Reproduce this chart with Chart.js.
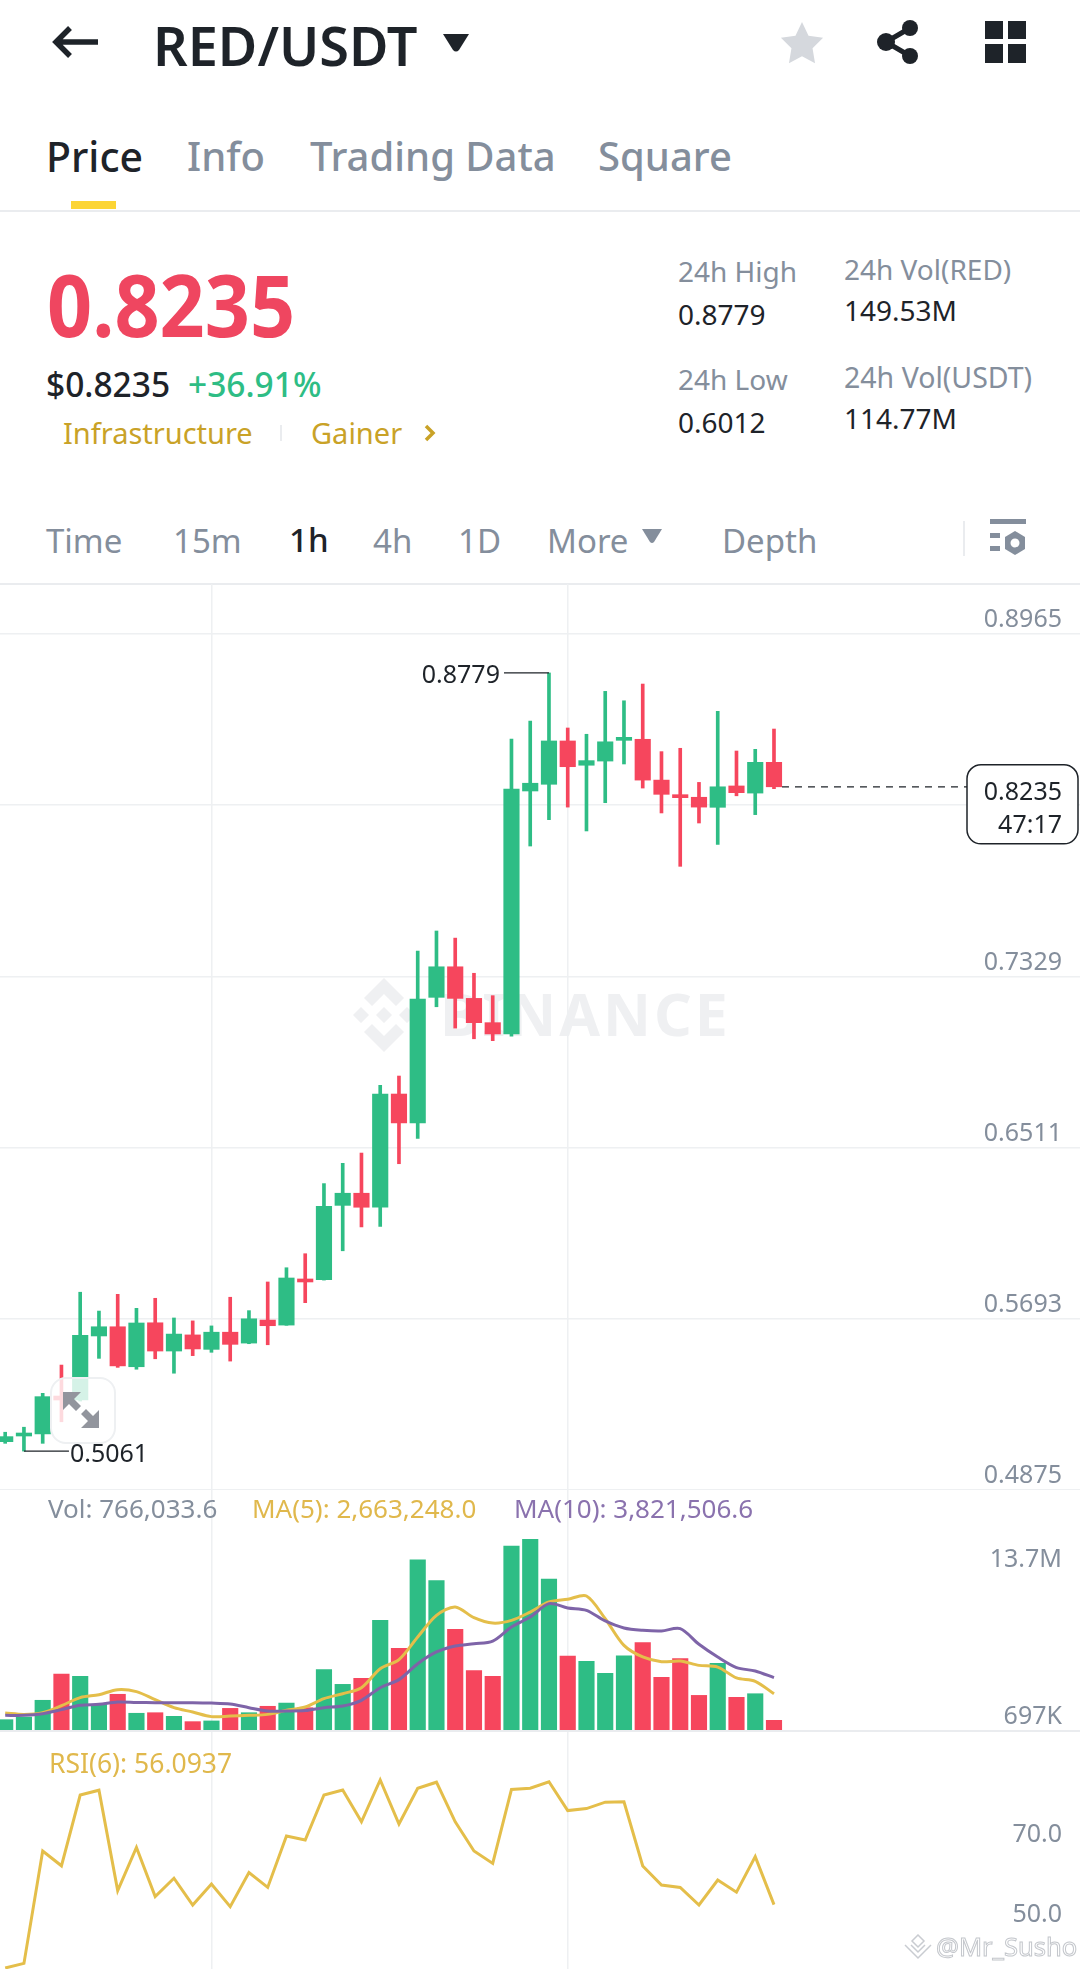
<!DOCTYPE html>
<html>
<head>
<meta charset="utf-8">
<title>RED/USDT</title>
<script src="https://cdn.jsdelivr.net/npm/chart.js@4/dist/chart.umd.min.js"></script>
<style>
    html, body { margin: 0; padding: 0; background: #fff; }
    #page { position: relative; width: 1080px; height: 1969px; overflow: hidden; background: #fff;
            font-family: "Noto Sans", sans-serif; color: #1E2329; }
    .t { position: absolute; white-space: nowrap; line-height: 1; transform: translateY(-50%); }
    .gray { color: #848E9C; }
    .rule { position: absolute; background: #EAECEF; }
    svg { position: absolute; display: block; }
    canvas { position: absolute; left: 0; display: block; }
</style>
</head>
<body>
<div id="page">
    <!-- top bar -->
    <svg style="left:52px;top:24px" width="48" height="36" viewBox="0 0 48 36"><path d="M18 4 L4 18 L18 32 M4 18 H46" fill="none" stroke="#1E2329" stroke-width="5.5"/></svg>
    <div class="t" style="left:153px;top:45px;font-size:54px;font-weight:600">RED/USDT</div>
    <svg style="left:442px;top:33px" width="28" height="20" viewBox="0 0 28 20"><path d="M1 1 H27 L17 17 Q14 20 11 17 Z" fill="#1E2329"/></svg>
    <svg style="left:779px;top:20px" width="46" height="46" viewBox="0 0 24 24"><path d="M12 1 L15.4 8.2 L23 9.3 L17.5 14.8 L18.8 22.6 L12 18.9 L5.2 22.6 L6.5 14.8 L1 9.3 L8.6 8.2 Z" fill="#D5D8DD"/></svg>
    <svg style="left:876px;top:19px" width="46" height="46" viewBox="0 0 46 46"><path d="M34 9 L10 23 L34 37" fill="none" stroke="#1E2329" stroke-width="5"/><circle cx="34" cy="9" r="8" fill="#1E2329"/><circle cx="10" cy="23" r="9" fill="#1E2329"/><circle cx="34" cy="37" r="8" fill="#1E2329"/></svg>
    <svg style="left:985px;top:21px" width="41" height="42" viewBox="0 0 41 42"><path d="M0 0 H18 V18 H0 Z M23 0 H41 V18 H23 Z M0 23 H18 V42 H0 Z M23 23 H41 V42 H23 Z" fill="#1E2329"/></svg>

    <!-- tabs -->
    <div class="t" style="left:46px;top:156px;font-size:41px;font-weight:500">Price</div>
    <div class="t gray" style="left:187px;top:156px;font-size:40px;font-weight:500">Info</div>
    <div class="t gray" style="left:310px;top:156px;font-size:40px;font-weight:500">Trading Data</div>
    <div class="t gray" style="left:598px;top:156px;font-size:40px;font-weight:500">Square</div>
    <div class="rule" style="left:71px;top:201px;width:45px;height:8px;background:#FCD535"></div>
    <div class="rule" style="left:0;top:210px;width:1080px;height:2px"></div>

    <!-- price block -->
    <div class="t" style="left:47px;top:304px;font-size:79px;font-weight:700;color:#EF4660;transform:translateY(-50%) scaleY(1.08)">0.8235</div>
    <div class="t" style="left:46px;top:385px;font-size:33.5px;font-weight:500">$0.8235</div>
    <div class="t" style="left:188px;top:385px;font-size:33.5px;font-weight:500;color:#2EBD85">+36.91%</div>
    <div class="t" style="left:63px;top:432px;font-size:29px;color:#C9A227">Infrastructure</div>
    <div class="rule" style="left:280px;top:425px;width:2px;height:16px"></div>
    <div class="t" style="left:311px;top:432px;font-size:29px;color:#C9A227">Gainer</div>
    <svg style="left:423px;top:423px" width="13" height="20" viewBox="0 0 13 20"><path d="M3 3 L10 10 L3 17" fill="none" stroke="#C9A227" stroke-width="3.5"/></svg>

    <!-- 24h stats -->
    <div class="t gray" style="left:678px;top:271px;font-size:28px">24h High</div>
    <div class="t" style="left:678px;top:314px;font-size:28px">0.8779</div>
    <div class="t gray" style="left:678px;top:379px;font-size:28px">24h Low</div>
    <div class="t" style="left:678px;top:422px;font-size:28px">0.6012</div>
    <div class="t gray" style="left:844px;top:269px;font-size:28px">24h Vol(RED)</div>
    <div class="t" style="left:844px;top:310px;font-size:28px">149.53M</div>
    <div class="t gray" style="left:844px;top:377px;font-size:28.5px">24h Vol(USDT)</div>
    <div class="t" style="left:844px;top:418px;font-size:28px">114.77M</div>

    <!-- interval row -->
    <div class="t gray" style="left:46px;top:540px;font-size:33px">Time</div>
    <div class="t gray" style="left:173px;top:540px;font-size:33px">15m</div>
    <div class="t" style="left:289px;top:539px;font-size:33px;font-weight:500">1h</div>
    <div class="t gray" style="left:373px;top:540px;font-size:33px">4h</div>
    <div class="t gray" style="left:458px;top:540px;font-size:33px">1D</div>
    <div class="t gray" style="left:547px;top:540px;font-size:33px">More</div>
    <svg style="left:642px;top:529px" width="20" height="15" viewBox="0 0 20 15"><path d="M0 0 H20 L12 13 Q10 15 8 13 Z" fill="#848E9C"/></svg>
    <div class="t gray" style="left:722px;top:540px;font-size:33px">Depth</div>
    <div class="rule" style="left:963px;top:521px;width:2px;height:35px"></div>
    <svg style="left:990px;top:519px" width="36" height="37" viewBox="0 0 36 37"><path d="M0 0 H36 V5 H0 Z M0 14 H10 V19 H0 Z M0 27 H10 V32 H0 Z" fill="#848E9C"/><path d="M25 12 L35 18 V30 L25 36 L15 30 V18 Z" fill="#848E9C"/><circle cx="25" cy="24" r="4.5" fill="#fff"/></svg>
    <div class="rule" style="left:0;top:583px;width:1080px;height:2px"></div>

    <!-- watermark sits under the transparent price canvas -->
    <svg style="left:353px;top:978px" width="62" height="74" viewBox="0 0 62 74" fill="#EFF0F2">
        <path d="M31 0 L51 20 L43 28 L31 16 L19 28 L11 20 Z M31 74 L51 54 L43 46 L31 58 L19 46 L11 54 Z M0 37 L8 29 L16 37 L8 45 Z M46 37 L54 29 L62 37 L54 45 Z M31 29 L39 37 L31 45 L23 37 Z"/>
    </svg>
    <div class="t" style="left:440px;top:1013px;font-size:59px;font-weight:700;letter-spacing:3px;color:#EFF0F2">BINANCE</div>

    <canvas id="priceChart" width="1080" height="906" style="top:584px"></canvas>
    <canvas id="volChart" width="1080" height="241" style="top:1490px"></canvas>
    <canvas id="rsiChart" width="1080" height="238" style="top:1731px"></canvas>

    <!-- expand button floats over the candles -->
    <div style="position:absolute;left:50px;top:1377px;width:62px;height:63px;border:2px solid #EEF0F2;border-radius:16px;background:rgba(255,255,255,.8)"></div>
    <svg style="left:61px;top:1390px" width="40" height="40" viewBox="0 0 40 40" fill="#92959D">
        <path d="M2 2 H20 L13 9 L20 16 L15 21 L8 14 L2 20 Z M38 38 H20 L27 31 L20 24 L25 19 L32 26 L38 20 Z"/>
    </svg>

    <!-- baseline under the volume bars -->
    <div class="rule" style="left:0;top:1730px;width:1080px;height:2px"></div>

    <!-- indicator legends -->
    <div class="t gray" style="left:48px;top:1508px;font-size:26px">Vol: 766,033.6</div>
    <div class="t" style="left:252px;top:1508px;font-size:26px;color:#E0B84C">MA(5): 2,663,248.0</div>
    <div class="t" style="left:514px;top:1508px;font-size:26px;color:#8A72AE">MA(10): 3,821,506.6</div>
    <div class="t" style="left:49px;top:1763px;font-size:26.5px;color:#E0B84C">RSI(6): 56.0937</div>

    <!-- source credit -->
    <svg style="left:904px;top:1934px" width="28" height="26" viewBox="0 0 28 26" fill="none" stroke="#C9CCD1" stroke-width="1.5"><path d="M14 1 L20 7 L14 13 L8 7 Z M1 11 L14 24 L27 11 M7 11 L14 18 L21 11"/></svg>
    <div class="t" style="left:936px;top:1947px;font-size:25.5px;color:#fff;-webkit-text-stroke:1px #C4C7CC">@Mr_Susho</div>
</div>

<script>
// ===================================================================
// Values
// ===================================================================
const opens = [0.5106, 0.5133, 0.5143, 0.5324, 0.5305, 0.5611, 0.5655, 0.5464, 0.5674, 0.5539,
    0.5616, 0.5547, 0.5629, 0.5577, 0.5687, 0.5663, 0.5883, 0.5880, 0.6235, 0.6293,
    0.6227, 0.6767, 0.6629, 0.7229, 0.7375, 0.7224, 0.7108, 0.7054, 0.8215, 0.8247,
    0.8454, 0.8338, 0.8358, 0.8457, 0.8462, 0.8267, 0.8197, 0.8185, 0.8137, 0.8239,
    0.8205, 0.8352];
const highs = [0.5151, 0.5175, 0.5337, 0.5472, 0.5820, 0.5730, 0.5810, 0.5743, 0.5791, 0.5697,
    0.5683, 0.5659, 0.5796, 0.5732, 0.5869, 0.5937, 0.6004, 0.6339, 0.6436, 0.6485,
    0.6809, 0.6853, 0.7450, 0.7546, 0.7512, 0.7344, 0.7237, 0.8463, 0.8549, 0.8779,
    0.8516, 0.8486, 0.8691, 0.8646, 0.8726, 0.8403, 0.8419, 0.8256, 0.8596, 0.8406,
    0.8414, 0.8511];
const lows = [0.5098, 0.5061, 0.5098, 0.5201, 0.5300, 0.5504, 0.5461, 0.5452, 0.5502, 0.5433,
    0.5517, 0.5533, 0.5491, 0.5574, 0.5569, 0.5662, 0.5770, 0.5878, 0.6018, 0.6132,
    0.6135, 0.6434, 0.6555, 0.7184, 0.7082, 0.7031, 0.7022, 0.7044, 0.7952, 0.8078,
    0.8138, 0.8024, 0.8159, 0.8344, 0.8229, 0.8110, 0.7855, 0.8062, 0.7960, 0.8192,
    0.8102, 0.8226];
const closes = [0.5130, 0.5144, 0.5321, 0.5305, 0.5614, 0.5655, 0.5468, 0.5673, 0.5539, 0.5620,
    0.5549, 0.5629, 0.5571, 0.5693, 0.5660, 0.5888, 0.5869, 0.6231, 0.6293, 0.6226,
    0.6767, 0.6629, 0.7221, 0.7375, 0.7224, 0.7108, 0.7054, 0.8224, 0.8252, 0.8454,
    0.8331, 0.8360, 0.8450, 0.8471, 0.8267, 0.8199, 0.8183, 0.8138, 0.8235, 0.8207,
    0.8352, 0.8235];

const volumes = [810000, 1000000, 2200000, 4080000, 3910000, 1910000, 2630000, 1270000, 1310000, 1050000,
    670000, 720000, 1620000, 1310000, 1770000, 2000000, 1670000, 4390000, 3340000, 3770000,
    7920000, 5920000, 12250000, 10770000, 7280000, 4320000, 3910000, 13250000, 13730000, 10880000,
    5370000, 4990000, 4130000, 5390000, 6330000, 3840000, 5180000, 2550000, 4850000, 2410000,
    2670000, 766034];
const volMa5 = [1290000, 1190000, 1310000, 1810000, 2390000, 2600000, 2960000, 2820000, 2240000, 1670000,
    1360000, 1030000, 1070000, 1120000, 1190000, 1480000, 1720000, 2320000, 2670000, 3100000,
    4460000, 5110000, 6730000, 8280000, 8880000, 8120000, 7730000, 7920000, 8520000, 9240000,
    9430000, 9670000, 8040000, 6130000, 5300000, 4960000, 5010000, 4700000, 4580000, 3800000,
    3560000, 2663248];
const volMa10 = [1120000, 1120000, 1240000, 1530000, 1840000, 1910000, 2080000, 2050000, 2030000, 2030000,
    2030000, 2000000, 1930000, 1670000, 1430000, 1430000, 1460000, 1670000, 1790000, 2200000,
    3100000, 3680000, 4820000, 5660000, 6090000, 6250000, 6440000, 7450000, 8160000, 9120000,
    8810000, 8640000, 7880000, 7380000, 7210000, 7160000, 7330000, 6210000, 5300000, 4540000,
    4300000, 3821507];
const rsi6 = [40.25, 41.4, 69.5, 65.8, 83.5, 84.7, 59.6, 70.4, 58.1, 62.7,
    56.0, 61.25, 55.6, 64.1, 60.4, 73.25, 72.25, 83.5, 84.75, 76.8,
    87.25, 76.25, 85.2, 86.7, 76.8, 69.5, 66.4, 84.9, 85.2, 86.8,
    79.6, 80.1, 81.7, 81.8, 65.75, 61.0, 60.4, 56.0, 62.25, 59.2,
    68.1, 56.09];

const priceTicks = [0.8965, 0.8147, 0.7329, 0.6511, 0.5693, 0.4875];
const volTicks = [13700000, 697000];
const volTickLabels = ['13.7M', '697K'];
const rsiTicks = [70, 50];
const timeGridAt = [11, 30];

const lastPrice = '0.8235';
const countdown = '47:17';
const highAt = 29;
const lowAt = 1;

// ===================================================================
// Shared styling
// ===================================================================
const GREEN = '#2EBD85';
const RED = '#F6465D';
const GRID = '#EEF0F2';
const AXIS_TEXT = '#848E9C';
const INK = '#1E2329';
const FONT = '"Noto Sans", sans-serif';
const TICK_FONT = { family: FONT, size: 25 };

const candleColors = closes.map((c, i) => (c >= opens[i] ? GREEN : RED));
const toPoints = (arr) => arr.map((v, i) => ({ x: i, y: v }));

// mirrored tick labels still reserve padding, which would shrink the plot area
function noPadding(axis) {
    axis.paddingTop = 0;
    axis.paddingBottom = 0;
    axis.paddingLeft = 0;
    axis.paddingRight = 0;
}

// every pane shares the same x mapping, the candles run to x=774 and the rest stays empty
function xScale() {
    return {
        type: 'linear',
        offset: false,
        min: -0.277,
        max: 57.32,
        afterBuildTicks: (axis) => { axis.ticks = timeGridAt.map((v) => ({ value: v })); },
        afterFit: (axis) => { noPadding(axis); axis.height = 0; },
        grid: { color: GRID, lineWidth: 1.5, drawTicks: false, offset: false },
        border: { display: false },
        ticks: { display: false }
    };
}

function yScale(min, max, tickValues, ticksOpts) {
    return {
        position: 'right',
        min,
        max,
        afterBuildTicks: (axis) => { axis.ticks = tickValues.map((v) => ({ value: v })); },
        afterFit: (axis) => { noPadding(axis); axis.width = 0; },
        grid: { display: false, drawTicks: false },
        border: { display: false },
        ticks: Object.assign({
            mirror: true,
            padding: -18,   // axis has zero width at the canvas edge, so pull the labels back in
            autoSkip: false,
            color: AXIS_TEXT,
            font: TICK_FONT
        }, ticksOpts)
    };
}

const baseOptions = {
    responsive: false,
    animation: false,
    layout: { padding: 0 },
    plugins: { legend: { display: false }, tooltip: { enabled: false } }
};

// ===================================================================
// Price pane
// ===================================================================
// high / low callouts and the live price line with its box
const priceMarks = {
    id: 'priceMarks',
    afterDraw(chart) {
        const { ctx, scales: { x, y } } = chart;
        ctx.save();
        ctx.font = `25px ${FONT}`;
        ctx.textBaseline = 'middle';
        ctx.fillStyle = INK;
        ctx.strokeStyle = INK;
        ctx.lineWidth = 1.2;

        const hiY = y.getPixelForValue(highs[highAt]);
        const hiX = x.getPixelForValue(highAt);
        ctx.beginPath();
        ctx.moveTo(hiX, hiY);
        ctx.lineTo(hiX - 45, hiY);
        ctx.stroke();
        ctx.textAlign = 'right';
        ctx.fillText(highs[highAt].toFixed(4), hiX - 49, hiY + 3);

        const loY = y.getPixelForValue(lows[lowAt]);
        const loX = x.getPixelForValue(lowAt);
        ctx.beginPath();
        ctx.moveTo(loX, loY);
        ctx.lineTo(loX + 45, loY);
        ctx.stroke();
        ctx.textAlign = 'left';
        ctx.fillText(lows[lowAt].toFixed(4), loX + 46, loY + 4);

        // dashed line from the last candle to the box
        const lastY = y.getPixelForValue(closes[closes.length - 1]);
        const boxLeft = 967;
        ctx.setLineDash([7, 6]);
        ctx.beginPath();
        ctx.moveTo(x.getPixelForValue(closes.length - 1) + 8, lastY);
        ctx.lineTo(boxLeft, lastY);
        ctx.stroke();
        ctx.setLineDash([]);

        ctx.lineWidth = 1.5;
        ctx.fillStyle = '#fff';
        ctx.beginPath();
        ctx.roundRect(boxLeft, lastY - 22, 111, 79, 14);
        ctx.fill();
        ctx.stroke();

        ctx.fillStyle = INK;
        ctx.textAlign = 'right';
        ctx.fillText(lastPrice, 1062, lastY + 6);
        ctx.fillText(countdown, 1062, lastY + 39);
        ctx.restore();
    }
};

new Chart(document.getElementById('priceChart'), {
    type: 'bar',
    data: {
        datasets: [
            {
                label: 'Wick',
                data: highs.map((h, i) => ({ x: i, y: [lows[i], h] })),
                backgroundColor: candleColors,
                barThickness: 3,
                grouped: false,
                order: 2
            },
            {
                label: 'Body',
                data: closes.map((c, i) => ({ x: i, y: [opens[i], c] })),
                backgroundColor: candleColors,
                barThickness: 15.5,
                minBarLength: 3,
                grouped: false,
                order: 1
            }
        ]
    },
    options: Object.assign({}, baseOptions, {
        scales: {
            x: xScale(),
            y: Object.assign(yScale(0.4875, 0.9204, priceTicks, {
                labelOffset: -14,
                callback: (v) => v.toFixed(4)
            }), { grid: { color: GRID, lineWidth: 1.5, drawTicks: false } })
        }
    }),
    plugins: [priceMarks]
});

// ===================================================================
// Volume pane
// ===================================================================
// 13.7M hangs under its level and 697K sits over it, so one labelOffset can't do both
const volLabels = {
    id: 'volLabels',
    afterDraw(chart) {
        const { ctx, scales: { y } } = chart;
        ctx.save();
        ctx.font = `25px ${FONT}`;
        ctx.fillStyle = AXIS_TEXT;
        ctx.textAlign = 'right';
        ctx.textBaseline = 'middle';
        ctx.fillText(volTickLabels[0], 1062, y.getPixelForValue(volTicks[0]) + 20);
        ctx.fillText(volTickLabels[1], 1062, y.getPixelForValue(volTicks[1]) - 4);
        ctx.restore();
    }
};

new Chart(document.getElementById('volChart'), {
    data: {
        datasets: [
            { type: 'line', label: 'MA(10)', data: toPoints(volMa10), borderColor: '#7E64A8', borderWidth: 3, pointRadius: 0, tension: 0.3, order: 0 },
            { type: 'line', label: 'MA(5)', data: toPoints(volMa5), borderColor: '#E4BE4A', borderWidth: 3, pointRadius: 0, tension: 0.3, order: 1 },
            { type: 'bar', label: 'Vol', data: toPoints(volumes), backgroundColor: candleColors, barThickness: 15.5, order: 2 }
        ]
    },
    options: Object.assign({}, baseOptions, {
        scales: {
            x: xScale(),
            y: yScale(0, 17260000, [], { display: false })
        }
    }),
    plugins: [volLabels]
});

// ===================================================================
// RSI pane
// ===================================================================
new Chart(document.getElementById('rsiChart'), {
    type: 'line',
    data: {
        datasets: [{
            label: 'RSI(6)',
            data: toPoints(rsi6),
            borderColor: '#E4BE4A',
            borderWidth: 3,
            pointRadius: 0,
            tension: 0
        }]
    },
    options: Object.assign({}, baseOptions, {
        scales: {
            x: xScale(),
            y: yScale(40, 99.5, rsiTicks, {
                labelOffset: -14.4,
                callback: (v) => v.toFixed(1)
            })
        }
    })
});
</script>
</body>
</html>
